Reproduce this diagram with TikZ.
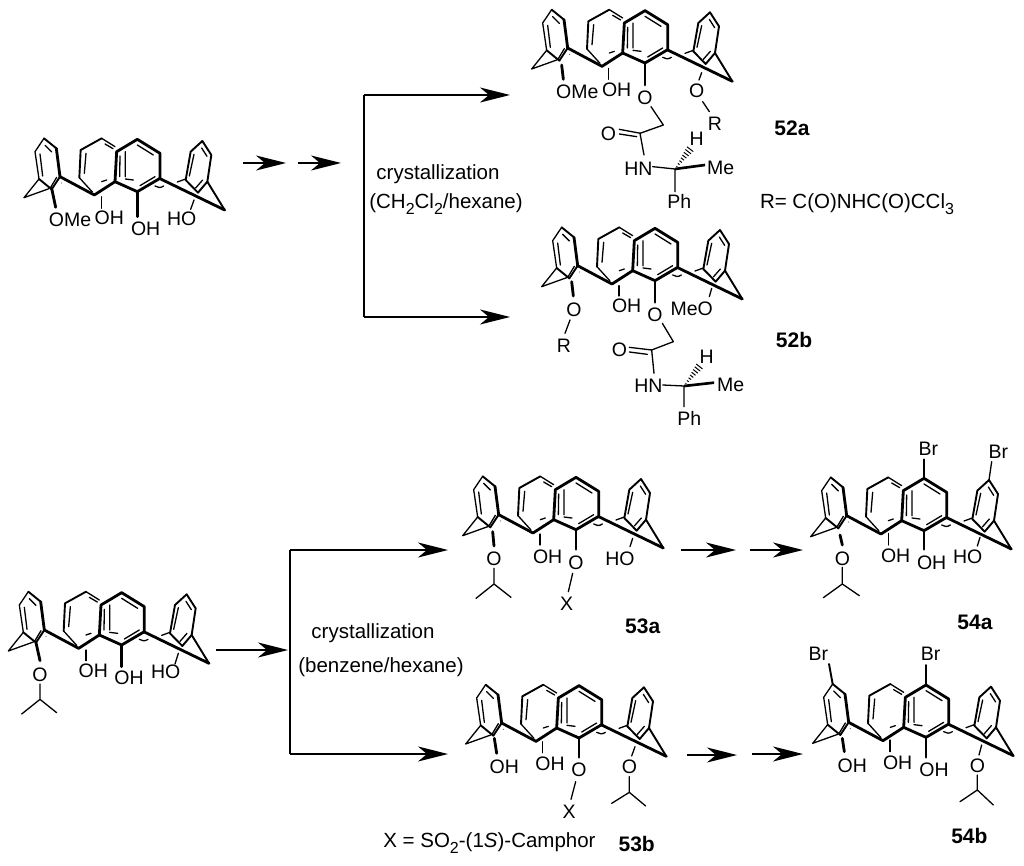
\documentclass[tikz,border=0pt]{standalone}
\usepackage{fontspec}
\setmainfont{Liberation Sans}
\usetikzlibrary{arrows.meta,calc}
\tikzset{
  thinb/.style={line width=1.3pt,line cap=round,line join=round},
  medb/.style={line width=1.9pt,line cap=round,line join=round},
  thickb/.style={line width=2.8pt,line cap=round,line join=round},
  lbl/.style={inner sep=0pt,outer sep=0pt,font=\fontsize{19.5}{20}\selectfont},
  captxt/.style={inner sep=0pt,outer sep=0pt,font=\fontsize{20.5}{22}\selectfont},
  cmpd/.style={inner sep=0pt,outer sep=0pt,font=\fontsize{21}{22}\selectfont\bfseries},
  rxn/.style={line width=1.5pt,-{Stealth[length=30pt,width=15pt,inset=9pt]}},
  branchline/.style={line width=1.5pt},
  zoomed/.style={x=0.33333pt,y=-0.33333pt}
}
\newcommand{\bigsub}[1]{\raisebox{-0.3em}{\fontsize{16}{16}\selectfont #1}}
% calixarene core, zoom units; #1,#2 = top vertex of the front ring
\newcommand{\calixcore}[2]{%
\begin{scope}[shift={(#1-365,#2-68)}]
 % left ring
 \draw[thinb] (70,187)--(58,105)--(85,65);
 \draw[medb] (85,65)--(122,95);
 \draw[thickb] (122,95)--(133,180);
 \draw[medb] (133,180)--(108,218)--(70,187);
 \draw[thinb] (88,86)--(108,106) (73,112)--(81,178) (123,182)--(105,212);
 \draw[thinb] (70,187)--(25,243)--(100,216);
 \fill (138,199) circle (1.4);
 % back ring
 \draw[medb] (191,183)--(195,100)--(258,65);
 \draw[thinb] (258,65)--(298,90);
 \draw[thinb] (211,110)--(206,170) (268,82)--(292,96) (258,195)--(273,190);
 \draw[thinb] (191,183)--(230,226);
 % bridges
 \draw[thickb] (133,180)--(236,235)--(298,195);
 % front ring
 \draw[thickb] (365,68)--(433,110)--(433,185)--(365,225)--(298,195)--(303,105)--cycle;
 \draw[thinb] (365,85)--(413,115) (418,180)--(373,207);
 \draw[thinb] (313,118)--(312,180) (329,105)--(329,180) (329,187)--(353,190);
 \draw[thinb] (418,208) .. controls (425,214) and (436,214) .. (444,208);
 % right bridge and ring
 \draw[thinb] (485,196)--(510,187);
 \draw[medb] (510,190)--(525,105)--(560,73);
 \draw[medb] (560,73)--(587,115)--(575,195);
 \draw[medb] (510,190)--(547,228)--(575,195);
 \draw[thinb] (558,94)--(574,119) (535,113)--(521,178) (561,190)--(540,214);
 \draw[thickb] (433,186)--(627,280);
 \draw[medb] (575,195)--(627,280);
\end{scope}}
\newcommand{\hashwedge}[2]{%
 \foreach \t/\w in {0.12/0.5pt,0.24/1pt,0.36/1.5pt,0.48/2pt,0.6/2.5pt,0.72/3pt,0.84/3.5pt,0.96/4pt}{%
  \coordinate (hc) at ($#1!\t!#2$);
  \draw[line width=1pt] ($(hc)!\w!90:#2$)--($(hc)!\w!-90:#2$);}}
\begin{document}
\begin{tikzpicture}[x=1pt,y=-1pt]
\useasboundingbox (0,0) rectangle (1024,866);
\fill[white] (0,0) rectangle (1024,866);

% ---- molecule 1
\begin{scope}[shift={(0,120)},zoomed]
 \calixcore{412}{58}
 \draw[thickb] (155,205)--(167,262);
 \draw[thinb] (305,230)--(305,265);
 \draw[thickb] (412,218)--(412,290);
 \draw[thinb] (582,240)--(572,268);
 \node[lbl] (a1) at (210,300) {OMe};
 \node[lbl] (a2) at (328,293) {OH};
 \node[lbl] (a3) at (437,325) {OH};
 \node[lbl] (a4) at (545,295) {HO};
\end{scope}

% ---- 52a
\begin{scope}[shift={(520,0)},zoomed]
 \calixcore{375}{32}
 \draw[thickb] (125,195)--(130,238);
 \draw[thinb] (265,205)--(265,238);
 \draw[thickb] (375,190)--(375,255);
 \draw[thinb] (545,218)--(537,240) (548,305)--(568,335);
 \draw[thinb] (393,320)--(430,375)--(360,400)--(372,465);
 \draw[thinb] (298,388)--(362,400) (298,402)--(350,410);
 \draw[thinb] (398,500)--(465,507)--(465,575);
 \fill (465,503)--(555,491)--(555,499)--(465,511)--cycle;
 \hashwedge{(465,507)}{(512,445)}
 \node[lbl] (b1) at (172,275) {OMe};
 \node[lbl] (b2) at (290,268) {OH};
 \node[lbl] (b3) at (375,292) {O};
 \node[lbl] (b4) at (530,272) {O};
 \node[lbl] (b5) at (585,370) {R};
 \node[lbl] (b6) at (265,400) {O};
 \node[lbl] (b7) at (355,507) {HN};
 \node[lbl] (b8) at (530,417) {H};
 \node[lbl] (b9) at (602,505) {Me};
 \node[lbl] (b10) at (478,605) {Ph};
\end{scope}
\node[cmpd] (c52a) at (792,128) {52a};
\node[captxt] (rdef) at (857,204) {R= C(O)NHC(O)CCl\bigsub{3}};

% ---- 52b
\begin{scope}[shift={(520,215)},zoomed]
 \calixcore{405}{40}
 \draw[thickb] (155,200)--(160,243);
 \draw[thinb] (297,212)--(297,243);
 \draw[thickb] (405,197)--(405,262);
 \draw[thinb] (150,315)--(135,355);
 \draw[thinb] (575,220)--(568,245);
 \draw[thinb] (427,325)--(460,380)--(395,405)--(402,475);
 \draw[thinb] (328,397)--(395,405) (328,411)--(382,418);
 \draw[thinb] (428,510)--(492,513)--(492,575);
 \fill (492,509)--(582,499)--(582,507)--(492,517)--cycle;
 \hashwedge{(492,513)}{(540,452)}
 \node[lbl] (d1) at (162,285) {O};
 \node[lbl] (d2) at (132,392) {R};
 \node[lbl] (d3) at (320,273) {OH};
 \node[lbl] (d4) at (405,298) {O};
 \node[lbl] (d5) at (515,280) {MeO};
 \node[lbl] (d6) at (298,405) {O};
 \node[lbl] (d7) at (385,513) {HN};
 \node[lbl] (d8) at (560,425) {H};
 \node[lbl] (d9) at (632,510) {Me};
 \node[lbl] (d10) at (508,610) {Ph};
\end{scope}
\node[cmpd] (c52b) at (794,340) {52b};

% ---- lower-left molecule
\begin{scope}[shift={(0,570)},zoomed]
 \calixcore{365}{68}
 \draw[thickb] (108,218)--(120,272);
 \draw[thinb] (258,240)--(258,272);
 \draw[thickb] (365,228)--(365,290);
 \draw[thinb] (535,250)--(525,282);
 \draw[thinb] (120,342)--(120,388)--(65,432) (120,388)--(170,428);
 \node[lbl] (e1) at (120,313) {O};
 \node[lbl] (e2) at (280,302) {OH};
 \node[lbl] (e3) at (387,322) {OH};
 \node[lbl] (e4) at (497,305) {HO};
\end{scope}

% ---- 53a
\begin{scope}[shift={(450,460)},zoomed]
 \calixcore{378}{52}
 \draw[thickb] (128,215)--(132,258);
 \draw[thinb] (270,222)--(270,255);
 \draw[thickb] (378,208)--(378,268);
 \draw[thinb] (548,235)--(540,260);
 \draw[thinb] (132,325)--(132,372)--(78,415) (132,372)--(183,412);
 \draw[thinb] (368,340)--(355,395);
 \node[lbl] (f1) at (132,297) {O};
 \node[lbl] (f2) at (293,290) {OH};
 \node[lbl] (f3) at (378,307) {O};
 \node[lbl] (f4) at (350,430) {X};
 \node[lbl] (f5) at (510,295) {HO};
 \node[cmpd] (c53a) at (578,500) {53a};
\end{scope}

% ---- 53b
\begin{scope}[shift={(370,670)},zoomed]
 \calixcore{627}{47}
 \draw[thickb] (373,205)--(380,250);
 \draw[thinb] (518,215)--(518,248);
 \draw[thickb] (627,203)--(627,262);
 \draw[thinb] (795,230)--(785,258);
 \draw[thinb] (617,335)--(603,388);
 \draw[thinb] (778,320)--(778,367)--(725,400) (778,367)--(827,408);
 \node[lbl] (g1) at (403,290) {OH};
 \node[lbl] (g2) at (540,280) {OH};
 \node[lbl] (g3) at (627,300) {O};
 \node[lbl] (g4) at (597,425) {X};
 \node[lbl] (g5) at (778,290) {O};
 \node[captxt,anchor=west] (xdef) at (40,520) {X = SO\bigsub{2}-(1\textit{S})-Camphor};
 \node[cmpd] (c53b) at (800,522) {53b};
\end{scope}

% ---- 54a
\begin{scope}[shift={(780,430)},zoomed]
 \calixcore{432}{145}
 \draw[thickb] (180,315)--(187,345);
 \draw[thinb] (325,310)--(325,345);
 \draw[thickb] (432,300)--(432,358);
 \draw[thinb] (600,322)--(592,348);
 \draw[thinb] (187,412)--(187,462)--(130,503) (187,462)--(238,497);
 \draw[medb] (432,145)--(432,88);
 \draw[thinb] (627,150)--(635,95);
 \node[lbl] (h1) at (187,385) {O};
 \node[lbl] (h2) at (347,378) {OH};
 \node[lbl] (h3) at (455,398) {OH};
 \node[lbl] (h4) at (563,380) {HO};
 \node[lbl] (h5) at (445,55) {Br};
 \node[lbl] (h6) at (655,65) {Br};
 \node[cmpd] (c54a) at (585,577) {54a};
\end{scope}

% ---- 54b
\begin{scope}[shift={(780,640)},zoomed]
 \calixcore{438}{135}
 \draw[thickb] (187,295)--(193,335);
 \draw[thinb] (330,300)--(330,335);
 \draw[thickb] (438,290)--(438,352);
 \draw[thinb] (605,315)--(597,345);
 \draw[thinb] (592,405)--(592,450)--(540,485) (592,450)--(640,495);
 \draw[medb] (158,132)--(147,72);
 \draw[medb] (438,135)--(438,75);
 \node[lbl] (i1) at (217,378) {OH};
 \node[lbl] (i2) at (353,367) {OH};
 \node[lbl] (i3) at (462,390) {OH};
 \node[lbl] (i4) at (592,377) {O};
 \node[lbl] (i5) at (115,42) {Br};
 \node[lbl] (i6) at (452,42) {Br};
 \node[cmpd] (c54b) at (568,587) {54b};
\end{scope}

% ---- reaction text
\node[captxt] (t1) at (438,174) {crystallization};
\node[captxt] (t2) at (446,204) {(CH\bigsub{2}Cl\bigsub{2}/hexane)};
\node[captxt] (t3) at (373,633) {crystallization};
\node[captxt] (t4) at (381,667) {(benzene/hexane)};

% ---- arrows
\coordinate (p1) at (243,163); \coordinate (p2) at (286,163);
\coordinate (p3) at (298,163); \coordinate (p4) at (341,163);
\draw[rxn] (p1)--(p2);
\draw[rxn] (p3)--(p4);
\coordinate (q0) at (364,95); \coordinate (q1) at (364,317);
\coordinate (q2) at (510,95); \coordinate (q3) at (510,317);
\draw[branchline] (q0)--(q1);
\draw[rxn] (q0)--(q2);
\draw[rxn] (q1)--(q3);
\coordinate (r1) at (216,650); \coordinate (r2) at (288,650);
\draw[rxn] (r1)--(r2);
\coordinate (s0) at (290,550); \coordinate (s1) at (290,754);
\coordinate (s2) at (448,550); \coordinate (s3) at (448,754);
\draw[branchline] (s0)--(s1);
\draw[rxn] (s0)--(s2);
\draw[rxn] (s1)--(s3);
\coordinate (u1) at (681,550); \coordinate (u2) at (736,550);
\coordinate (u3) at (750,550); \coordinate (u4) at (803,550);
\draw[rxn] (u1)--(u2);
\draw[rxn] (u3)--(u4);
\coordinate (v1) at (687,755); \coordinate (v2) at (737,755);
\coordinate (v3) at (752,754); \coordinate (v4) at (803,754);
\draw[rxn] (v1)--(v2);
\draw[rxn] (v3)--(v4);
\end{tikzpicture}
\end{document}
